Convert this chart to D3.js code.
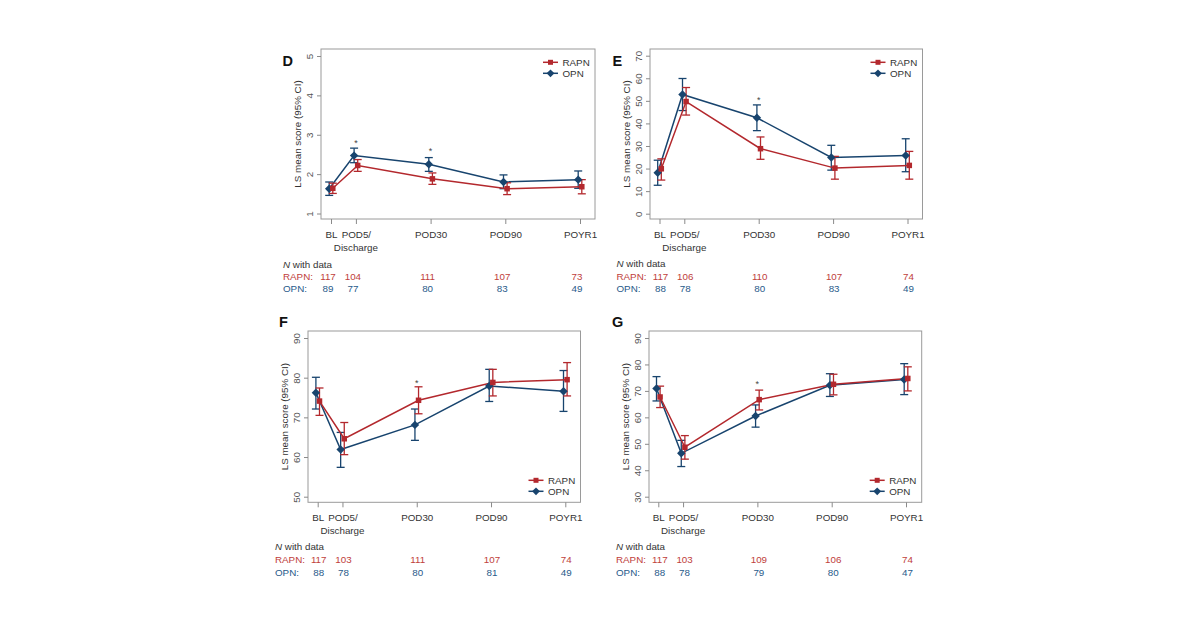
<!DOCTYPE html>
<html><head><meta charset="utf-8">
<script src="https://cdn.jsdelivr.net/npm/d3@7"></script>
<style>
body{margin:0;background:#fff;}
svg{display:block;font-family:Arial,"Liberation Sans",sans-serif;}
</style></head>
<body>
<svg id="chart" width="1200" height="630"></svg>
<script>
// ---------- DATA ----------
const categories = ["BL", "POD5/|Discharge", "POD30", "POD90", "POYR1"];
const catPos = [0, 1, 4, 7, 10];
const seriesNames = ["RAPN", "OPN"];

// Panel D
const D_RAPN_mean = [1.64, 2.22, 1.88, 1.63, 1.68];
const D_RAPN_lo   = [1.51, 2.07, 1.74, 1.48, 1.50];
const D_RAPN_hi   = [1.77, 2.37, 2.03, 1.78, 1.86];
const D_OPN_mean  = [1.63, 2.47, 2.25, 1.80, 1.86];
const D_OPN_lo    = [1.46, 2.29, 2.07, 1.63, 1.64];
const D_OPN_hi    = [1.80, 2.66, 2.42, 1.98, 2.08];
const D_N_RAPN = [117, 104, 111, 107, 73];
const D_N_OPN  = [89, 77, 80, 83, 49];
const D_ticks = [1, 2, 3, 4, 5];
const D_sig = [[1, 2.86], [4, 2.64]];

// Panel E
const E_RAPN_mean = [19.9, 49.7, 28.8, 20.2, 21.4];
const E_RAPN_lo   = [14.9, 43.7, 24.1, 15.3, 15.3];
const E_RAPN_hi   = [24.3, 55.9, 34.0, 25.4, 27.6];
const E_OPN_mean  = [18.1, 52.8, 42.5, 24.9, 25.8];
const E_OPN_lo    = [12.6, 45.7, 36.8, 19.3, 18.6];
const E_OPN_hi    = [23.7, 59.9, 48.2, 30.3, 33.2];
const E_N_RAPN = [117, 106, 110, 107, 74];
const E_N_OPN  = [88, 78, 80, 83, 49];
const E_ticks = [0, 10, 20, 30, 40, 50, 60, 70];
const E_sig = [[4, 51.6]];

// Panel F
const F_RAPN_mean = [74.1, 64.6, 74.3, 78.8, 79.5];
const F_RAPN_lo   = [70.5, 60.6, 70.9, 75.4, 75.4];
const F_RAPN_hi   = [77.4, 68.7, 77.7, 82.1, 83.8];
const F_OPN_mean  = [76.2, 61.9, 68.1, 77.9, 76.6];
const F_OPN_lo    = [72.1, 57.4, 64.2, 74.0, 71.5];
const F_OPN_hi    = [80.1, 66.2, 72.1, 82.1, 81.8];
const F_N_RAPN = [117, 103, 111, 107, 74];
const F_N_OPN  = [88, 78, 80, 81, 49];
const F_ticks = [50, 60, 70, 80, 90];
const F_sig = [[4, 79.4]];

// Panel G
const G_RAPN_mean = [67.7, 48.7, 66.7, 72.5, 74.7];
const G_RAPN_lo   = [63.7, 44.2, 62.8, 68.5, 70.0];
const G_RAPN_hi   = [71.8, 53.1, 70.3, 76.3, 79.1];
const G_OPN_mean  = [70.9, 46.4, 60.5, 72.1, 74.3];
const G_OPN_lo    = [66.2, 41.4, 56.3, 67.9, 68.6];
const G_OPN_hi    = [75.4, 51.3, 64.7, 76.5, 80.3];
const G_N_RAPN = [117, 103, 109, 106, 74];
const G_N_OPN  = [88, 78, 79, 80, 47];
const G_ticks = [30, 40, 50, 60, 70, 80, 90];
const G_sig = [[4, 73.5]];

// ---------- STYLE / LAYOUT ----------
const RED = "#b3282d", BLUE = "#18446e";
const RED_T = "#c0403b", BLUE_T = "#285a8a";
const FONT = 9.8;

const panels = [
  {letter:"D", frame:[321,49,595,219], x0:331, x1:580, yr:[213.5,56], ticks:D_ticks,
   r:[D_RAPN_mean,D_RAPN_lo,D_RAPN_hi], o:[D_OPN_mean,D_OPN_lo,D_OPN_hi],
   nR:D_N_RAPN, nO:D_N_OPN, sig:D_sig, legend:"top", tdx:-3, ty:[268,280,291.5], lx:283},
  {letter:"E", frame:[650,49,922.5,219], x0:659.5, x1:907.5, yr:[213.7,55.7], ticks:E_ticks,
   r:[E_RAPN_mean,E_RAPN_lo,E_RAPN_hi], o:[E_OPN_mean,E_OPN_lo,E_OPN_hi],
   nR:E_N_RAPN, nO:E_N_OPN, sig:E_sig, legend:"top", tdx:1, ty:[266.5,279.5,291.5], lx:616.5},
  {letter:"F", frame:[308,331,580.5,502.3], x0:317.7, x1:565.3, yr:[496.7,338], ticks:F_ticks,
   r:[F_RAPN_mean,F_RAPN_lo,F_RAPN_hi], o:[F_OPN_mean,F_OPN_lo,F_OPN_hi],
   nR:F_N_RAPN, nO:F_N_OPN, sig:F_sig, legend:"bottom", tdx:1, ty:[550,563,575.5], lx:275},
  {letter:"G", frame:[649,331,921.7,502.3], x0:658.3, x1:906, yr:[496.7,338], ticks:G_ticks,
   r:[G_RAPN_mean,G_RAPN_lo,G_RAPN_hi], o:[G_OPN_mean,G_OPN_lo,G_OPN_hi],
   nR:G_N_RAPN, nO:G_N_OPN, sig:G_sig, legend:"bottom", tdx:1.5, ty:[549.5,563,575.5], lx:616}
];

const svg = d3.select("#chart");

function marker(g, type, x, y, color, s) {
  if (type === "square") {
    g.append("rect").attr("x", x - s/2).attr("y", y - s/2).attr("width", s).attr("height", s).attr("fill", color);
  } else {
    const h = s * 0.65;
    g.append("path").attr("d", `M${x},${y-h}L${x+h},${y}L${x},${y+h}L${x-h},${y}Z`).attr("fill", color);
  }
}

panels.forEach(p => {
  const g = svg.append("g");
  const [fx0, fy0, fx1, fy1] = p.frame;
  const x = d3.scaleLinear().domain([0, 10]).range([p.x0, p.x1]);
  const y = d3.scaleLinear().domain([p.ticks[0], p.ticks[p.ticks.length-1]]).range(p.yr);

  // frame
  g.append("rect").attr("x", fx0).attr("y", fy0).attr("width", fx1 - fx0).attr("height", fy1 - fy0)
    .attr("fill", "none").attr("stroke", "#9a9a9a").attr("stroke-width", 1);

  // y axis
  const ya = g.append("g").attr("transform", `translate(${fx0},0)`)
    .call(d3.axisLeft(y).tickValues(p.ticks).tickSize(4).tickFormat(d3.format("d")));
  ya.select(".domain").remove();
  ya.selectAll(".tick line").attr("stroke", "#8a8a8a");
  ya.selectAll(".tick text").attr("fill", "#555").attr("font-size", FONT).attr("font-family", null)
    .attr("text-anchor", "middle").attr("x", null).attr("dy", null)
    .attr("transform", "translate(-8.5,0) rotate(-90)");

  // x axis
  const xa = g.append("g").attr("transform", `translate(0,${fy1})`)
    .call(d3.axisBottom(x).tickValues(catPos).tickSize(5).tickFormat(""));
  xa.select(".domain").remove();
  xa.selectAll(".tick line").attr("stroke", "#8a8a8a");
  categories.forEach((c, i) => {
    const parts = c.split("|");
    parts.forEach((t, k) => {
      g.append("text").attr("x", x(catPos[i]) + (k ? 0 : 0.5)).attr("y", fy1 + 19 + k * 13)
        .attr("text-anchor", "middle").attr("font-size", FONT).attr("fill", "#333").text(t);
    });
  });

  // y title
  const cy = (fy0 + fy1) / 2;
  g.append("text").attr("transform", `translate(${fx0 - 20.5},${cy}) rotate(-90)`)
    .attr("text-anchor", "middle").attr("font-size", FONT).attr("fill", "#333")
    .text("LS mean score (95% CI)");

  // panel letter
  g.append("text").attr("x", p.frame[0] - (p.letter === "D" ? 38.5 : (p.letter === "E" ? 37.5 : (p.letter==="F"?29:37)))).attr("y", p.legend === "top" ? 66 : 327)
    .attr("font-size", 14.5).attr("font-weight", "bold").attr("fill", "#111").text(p.letter);

  // series
  const series = [
    {name:"OPN", d:p.o, color:BLUE, m:"diamond", off:-1.8},
    {name:"RAPN", d:p.r, color:RED, m:"square", off:1.8}
  ];
  series.forEach(s => {
    const pts = catPos.map((c, i) => ({x: x(c) + s.off, m: s.d[0][i], lo: s.d[1][i], hi: s.d[2][i]}));
    g.append("path").datum(pts)
      .attr("d", d3.line().x(d => d.x).y(d => y(d.m)))
      .attr("fill", "none").attr("stroke", s.color).attr("stroke-width", 1.5);
    pts.forEach(d => {
      g.append("line").attr("x1", d.x).attr("x2", d.x).attr("y1", y(d.lo)).attr("y2", y(d.hi))
        .attr("stroke", s.color).attr("stroke-width", 1.3);
      [d.lo, d.hi].forEach(v => {
        g.append("line").attr("x1", d.x - 4).attr("x2", d.x + 4).attr("y1", y(v)).attr("y2", y(v))
          .attr("stroke", s.color).attr("stroke-width", 1.3);
      });
    });
  });
  // markers on top
  series.forEach(s => {
    catPos.forEach((c, i) => marker(g, s.m, x(c) + s.off, y(s.d[0][i]), s.color, s.m === "square" ? 5.5 : 6.5));
  });

  // significance asterisks
  p.sig.forEach(([c, v]) => {
    g.append("text").attr("x", x(c)).attr("y", y(v) + 5.5).attr("text-anchor", "middle")
      .attr("font-size", 9).attr("fill", "#444").text("*");
  });

  // legend
  const lxr = fx1 - 52, ly = p.legend === "top" ? fy0 + 13.3 : fy1 - 22;
  [["RAPN", RED, "square"], ["OPN", BLUE, "diamond"]].forEach(([t, col, m], k) => {
    const yy = ly + k * 11;
    g.append("line").attr("x1", lxr).attr("x2", lxr + 15).attr("y1", yy).attr("y2", yy)
      .attr("stroke", col).attr("stroke-width", 1.5);
    marker(g, m, lxr + 7.5, yy, col, m === "square" ? 5 : 6);
    g.append("text").attr("x", lxr + 19.5).attr("y", yy + 3.5).attr("font-size", FONT).attr("fill", "#333").text(t);
  });

  // N table
  const lab = g.append("text").attr("x", p.lx).attr("y", p.ty[0]).attr("font-size", FONT).attr("fill", "#333");
  lab.append("tspan").attr("font-style", "italic").text("N");
  lab.append("tspan").text(" with data");
  g.append("text").attr("x", p.lx).attr("y", p.ty[1]).attr("font-size", FONT).attr("fill", RED_T).text("RAPN:");
  g.append("text").attr("x", p.lx).attr("y", p.ty[2]).attr("font-size", FONT).attr("fill", BLUE_T).text("OPN:");
  catPos.forEach((c, i) => {
    g.append("text").attr("x", x(c) + p.tdx).attr("y", p.ty[1]).attr("text-anchor", "middle")
      .attr("font-size", FONT).attr("fill", RED_T).text(p.nR[i]);
    g.append("text").attr("x", x(c) + p.tdx).attr("y", p.ty[2]).attr("text-anchor", "middle")
      .attr("font-size", FONT).attr("fill", BLUE_T).text(p.nO[i]);
  });
});
</script>
</body></html>
